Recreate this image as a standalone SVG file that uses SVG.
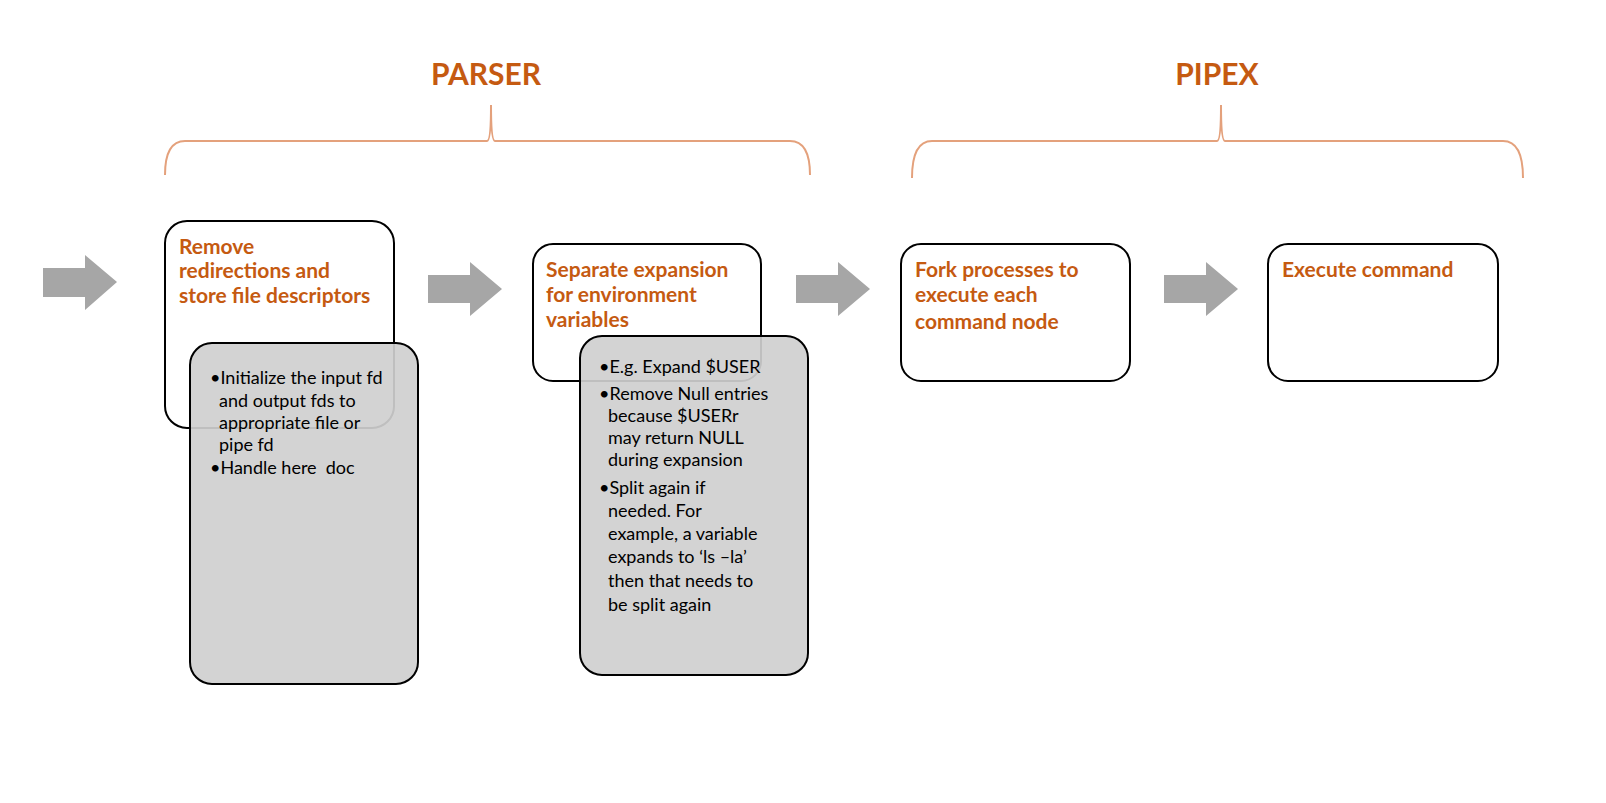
<svg xmlns="http://www.w3.org/2000/svg" width="1606" height="803" viewBox="0 0 1606 803">
<style>
.t{font-family:Lato,"Open Sans",sans-serif;font-weight:bold;fill:#C55A11}
.h{font-size:30px}
.b{font-size:21px}
.n{font-family:Lato,"Open Sans",sans-serif;font-size:18px;fill:#000}
.w{fill:#fff;stroke:#000;stroke-width:2}
.g{fill:#cfcfcf;fill-opacity:0.92;stroke:#000;stroke-width:2}
.br{fill:none;stroke:#E4A17C;stroke-width:2}
.ar{fill:#a6a6a6}
</style>
<rect width="1606" height="803" fill="#fff"/>
<g id="titles">
<text class="t h" x="486" y="85" text-anchor="middle">PARSER</text>
<text class="t h" x="1217" y="85" text-anchor="middle">PIPEX</text>
</g>
<g id="braces">
<path class="br" d="M165,175 Q165,141 185,141 L487,141 Q491,141 491,105 Q491,141 495,141 L790,141 Q810,141 810,175"/>
<path class="br" d="M912,178 Q912,141 932,141 L1217,141 Q1221,141 1221,105 Q1221,141 1225,141 L1503,141 Q1523,141 1523,178"/>
</g>
<g id="connectors">
<polygon class="ar" points="43,268 85,268 85,255 117,282 85,310 85,297 43,297"/>
<polygon class="ar" points="428,275 470,275 470,262 502,289 470,316 470,303 428,303"/>
<polygon class="ar" points="796,275 838,275 838,262 870,289 838,316 838,303 796,303"/>
<polygon class="ar" points="1164,275 1206,275 1206,262 1238,289 1206,316 1206,303 1164,303"/>
</g>
<g id="node1">
<rect class="w" x="165" y="221" width="229" height="207" rx="22"/>
<text class="t b" x="179" y="254">Remove</text>
<text class="t b" x="179" y="278">redirections and</text>
<text class="t b" x="179" y="303">store file descriptors</text>
</g>
<g id="note1">
<rect class="g" x="190" y="343" width="228" height="341" rx="22"/>
<text class="n" x="210" y="384">•Initialize the input fd</text>
<text class="n" x="219" y="407">and output fds to</text>
<text class="n" x="219" y="429">appropriate file or</text>
<text class="n" x="219" y="451">pipe fd</text>
<text class="n" x="210" y="474">•Handle here&#160; doc</text>
</g>
<g id="node2">
<rect class="w" x="533" y="244" width="228" height="137" rx="20"/>
<text class="t b" x="546" y="277">Separate expansion</text>
<text class="t b" x="546" y="302">for environment</text>
<text class="t b" x="546" y="327">variables</text>
</g>
<g id="note2">
<rect class="g" x="580" y="336" width="228" height="339" rx="22"/>
<text class="n" x="599" y="373">•E.g. Expand $USER</text>
<text class="n" x="599" y="400">•Remove Null entries</text>
<text class="n" x="608" y="422">because $USERr</text>
<text class="n" x="608" y="444">may return NULL</text>
<text class="n" x="608" y="466">during expansion</text>
<text class="n" x="599" y="494">•Split again if</text>
<text class="n" x="608" y="517">needed. For</text>
<text class="n" x="608" y="540">example, a variable</text>
<text class="n" x="608" y="563">expands to ‘ls –la’</text>
<text class="n" x="608" y="587">then that needs to</text>
<text class="n" x="608" y="611">be split again</text>
</g>
<g id="node3">
<rect class="w" x="901" y="244" width="229" height="137" rx="20"/>
<text class="t b" x="915" y="277">Fork processes to</text>
<text class="t b" x="915" y="302">execute each</text>
<text class="t b" x="915" y="329">command node</text>
</g>
<g id="node4">
<rect class="w" x="1268" y="244" width="230" height="137" rx="20"/>
<text class="t b" x="1282" y="277">Execute command</text>
</g>
</svg>
